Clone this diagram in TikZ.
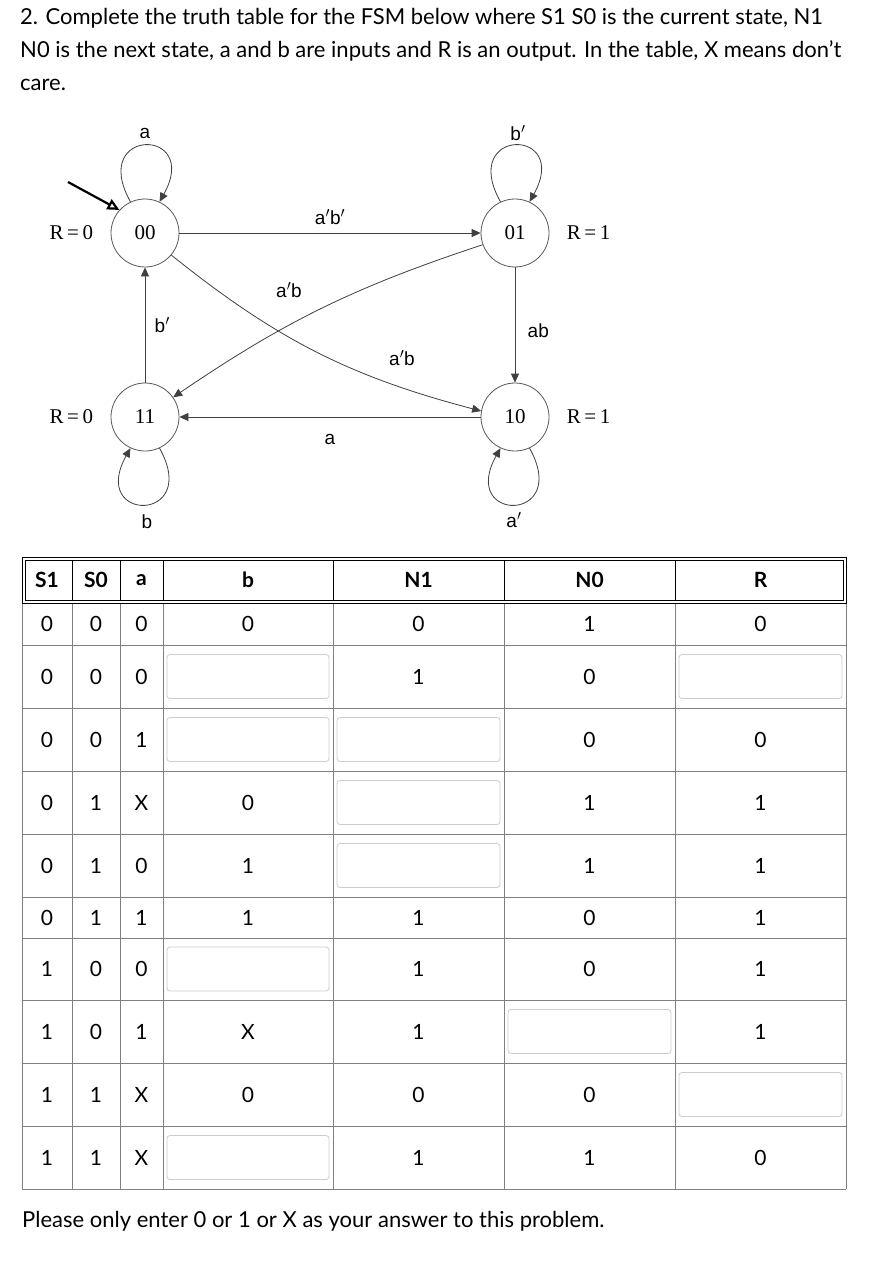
\documentclass[tikz,border=0pt]{standalone}
\usepackage{fontspec,ifthen}
\setmainfont{Lato}
\newfontfamily\statefont{Liberation Serif}
\newfontfamily\edgefont{Liberation Sans}
\usetikzlibrary{arrows.meta,positioning}
\tikzset{
  state/.style={draw=black!65, circle, minimum size=68pt, inner sep=0pt, line width=0.8pt, font=\statefont\fontsize{21}{21}\selectfont},
  outlbl/.style={font=\statefont\fontsize{21}{21}\selectfont},
  edgelbl/.style={font=\edgefont\fontsize{19}{19}\selectfont},
  trans/.style={draw=black!75, line width=0.8pt, -{Triangle[length=9pt,width=8pt]}},
  cellval/.style={font=\fontsize{21}{21}\selectfont},
  headval/.style={font=\bfseries\fontsize{21}{21}\selectfont},
  inputbox/.style={draw=black!20, fill=white, rounded corners=3pt, line width=0.8pt},
  gridline/.style={draw=black!50, line width=0.8pt}
}
\begin{document}
\begin{tikzpicture}[x=1pt,y=-1pt]
  \useasboundingbox[fill=white] (0,0) rectangle (883,1276);
  % question text
  \node[anchor=north west, align=left, inner sep=0pt, font=\fontsize{22}{33}\selectfont] (question) at (20,8)
    {2. Complete the truth table for the FSM below where S1 S0 is the current state, N1\\
     N0 is the next state, a and b are inputs and R is an output. In the table, X means don't\\
     care.};
  % states
  \node[state] (s00) at (145,233) {00};
  \node[state] (s01) at (515,233) {01};
  \node[state] (s11) at (145,417) {11};
  \node[state] (s10) at (515,417) {10};
  \node[outlbl, left=14pt of s00] (r00) {R\,=\,0};
  \node[outlbl, left=14pt of s11] (r11) {R\,=\,0};
  \node[outlbl, right=14pt of s01] (r01) {R\,=\,1};
  \node[outlbl, right=14pt of s10] (r10) {R\,=\,1};
  % initial arrow
  \coordinate (start) at (68,182);
  \draw[line width=2.2pt, -{Triangle[open,length=12pt,width=11pt]}] (start) -- (s00.138);
  % self loops
  \draw[trans] (s00.115) .. controls +(-42,-75) and +(42,-75) .. (s00.65);
  \draw[trans] (s01.115) .. controls +(-42,-75) and +(42,-75) .. (s01.65);
  \draw[trans] (s11.-65) .. controls +(42,75) and +(-42,75) .. (s11.-115);
  \draw[trans] (s10.-65) .. controls +(42,75) and +(-42,75) .. (s10.-115);
  \node[edgelbl] (la) at (145,133) {a};
  \node[edgelbl] (lbp) at (518,133) {b$'$};
  \node[edgelbl] (lb) at (147,522) {b};
  \node[edgelbl] (lap) at (514,520) {a$'$};
  % transitions
  \draw[trans] (s00) -- node[edgelbl, above=5pt] {a$'$b$'$} (s01);
  \draw[trans] (s11) -- node[edgelbl, right=6pt, pos=0.5] {b$'$} (s00);
  \draw[trans] (s01) -- node[edgelbl, right=9pt, pos=0.55] {ab} (s10);
  \draw[trans] (s10) -- node[edgelbl, below=14pt] {a} (s11);
  \draw[trans] (s00.-40) to[bend right=12] (s10.170);
  \draw[trans] (s01.200) to[bend right=8] (s11.35);
  \node[edgelbl] (lab1) at (289,290) {a$'$b};
  \node[edgelbl] (lab2) at (402,358) {a$'$b};
  % table grid
  \foreach \yy in {645,708,771,834,897,938,1000,1063,1126,1189}
    \draw[gridline] (22,\yy) -- (846,\yy);
  \foreach \xx in {22,72,120,163,333,504,675,846}
    \draw[gridline] (\xx,603) -- (\xx,1189);
  \draw[black, line width=0.8pt] (22,557) rectangle (846,603);
  \draw[black, line width=0.8pt] (25,560) rectangle (843,600);
  \foreach \xx in {72,120,163,333,504,675}
    \draw[black, line width=0.8pt] (\xx,560) -- (\xx,600);
  % header
  \foreach \cx/\txt [count=\j] in {47/S1,96/S0,141.5/a,248/b,418.5/N1,589.5/N0,760.5/R}
    \node[headval] (head-\j) at (\cx,580) {\txt};
  % rows, "-" is an empty input box
  \foreach \ya/\yb/\A/\B/\C/\D/\E/\F/\G [count=\i] in {
      603/645/0/0/0/0/0/1/0,
      645/708/0/0/0/-/1/0/-,
      708/771/0/0/1/-/-/0/0,
      771/834/0/1/X/0/-/1/1,
      834/897/0/1/0/1/-/1/1,
      897/938/0/1/1/1/1/0/1,
      938/1000/1/0/0/-/1/0/1,
      1000/1063/1/0/1/X/1/-/1,
      1063/1126/1/1/X/0/0/0/-,
      1126/1189/1/1/X/-/1/1/0}{
    \foreach \xa/\xb/\v [count=\j] in {22/72/\A,72/120/\B,120/163/\C,163/333/\D,333/504/\E,504/675/\F,675/846/\G}{
      \ifthenelse{\equal{\v}{-}}{
        \draw[inputbox] (\xa+4,\ya/2+\yb/2-22) rectangle (\xb-4,\ya/2+\yb/2+22);
      }{
        \node[cellval] (cell-\i-\j) at (\xa/2+\xb/2,\ya/2+\yb/2) {\v};
      }
    }
  }
  \node[anchor=west, inner sep=0pt, font=\fontsize{22}{22}\selectfont] (note) at (22,1221)
    {Please only enter 0 or 1 or X as your answer to this problem.};
\end{tikzpicture}
\end{document}
